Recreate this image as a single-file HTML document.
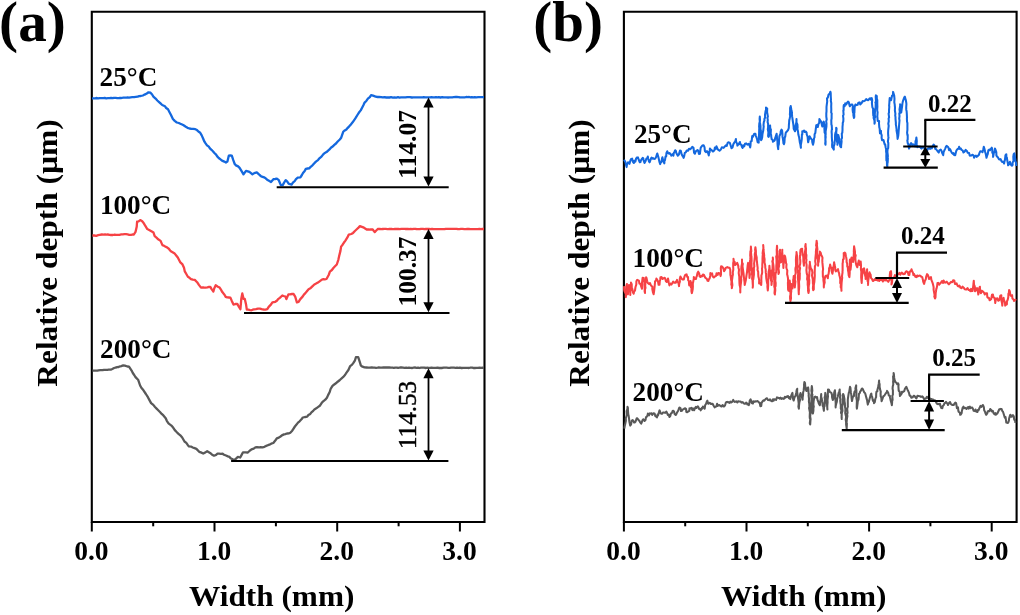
<!DOCTYPE html>
<html><head><meta charset="utf-8"><style>
html,body{margin:0;padding:0;background:#fff;width:1020px;height:615px;overflow:hidden}
svg{display:block;filter:blur(0.3px)}
text{font-family:"Liberation Serif",serif;font-weight:bold;fill:#000}
</style></head><body>
<svg width="1020" height="615" viewBox="0 0 1020 615">

<text x="-0.9" y="40.6" font-size="57.2">(a)</text>
<text x="533.3" y="40.8" font-size="57">(b)</text>
<path d="M91.8,11.8 H484.5 V522 H91.8 Z" fill="none" stroke="#000" stroke-width="2.1"/><line x1="91.8" y1="522" x2="91.8" y2="531.5" stroke="#000" stroke-width="2"/><text x="91.4" y="560" font-size="27.5" text-anchor="middle">0.0</text><line x1="214.5" y1="522" x2="214.5" y2="531.5" stroke="#000" stroke-width="2"/><text x="214.1" y="560" font-size="27.5" text-anchor="middle">1.0</text><line x1="337.2" y1="522" x2="337.2" y2="531.5" stroke="#000" stroke-width="2"/><text x="336.8" y="560" font-size="27.5" text-anchor="middle">2.0</text><line x1="459.9" y1="522" x2="459.9" y2="531.5" stroke="#000" stroke-width="2"/><text x="459.5" y="560" font-size="27.5" text-anchor="middle">3.0</text><line x1="153.2" y1="522" x2="153.2" y2="526.3" stroke="#000" stroke-width="2"/><line x1="275.9" y1="522" x2="275.9" y2="526.3" stroke="#000" stroke-width="2"/><line x1="398.6" y1="522" x2="398.6" y2="526.3" stroke="#000" stroke-width="2"/>
<path d="M623.9,11.8 H1016.6 V522 H623.9 Z" fill="none" stroke="#000" stroke-width="2.1"/><line x1="623.9" y1="522" x2="623.9" y2="531.5" stroke="#000" stroke-width="2"/><text x="623.5" y="560" font-size="27.5" text-anchor="middle">0.0</text><line x1="746.5" y1="522" x2="746.5" y2="531.5" stroke="#000" stroke-width="2"/><text x="746.1" y="560" font-size="27.5" text-anchor="middle">1.0</text><line x1="869.1" y1="522" x2="869.1" y2="531.5" stroke="#000" stroke-width="2"/><text x="868.7" y="560" font-size="27.5" text-anchor="middle">2.0</text><line x1="991.7" y1="522" x2="991.7" y2="531.5" stroke="#000" stroke-width="2"/><text x="991.3" y="560" font-size="27.5" text-anchor="middle">3.0</text><line x1="685.2" y1="522" x2="685.2" y2="526.3" stroke="#000" stroke-width="2"/><line x1="807.8" y1="522" x2="807.8" y2="526.3" stroke="#000" stroke-width="2"/><line x1="930.4" y1="522" x2="930.4" y2="526.3" stroke="#000" stroke-width="2"/>
<text transform="translate(271.7,606.3) scale(1,0.93)" font-size="31.3" text-anchor="middle">Width (mm)</text>
<text transform="translate(57.2,253.0) rotate(-90) scale(1,0.93)" x="0" y="0" font-size="31.4" text-anchor="middle">Relative depth (µm)</text>
<text transform="translate(803.7,606.3) scale(1,0.93)" font-size="31.3" text-anchor="middle">Width (mm)</text>
<text transform="translate(589.2,253.0) rotate(-90) scale(1,0.93)" x="0" y="0" font-size="31.4" text-anchor="middle">Relative depth (µm)</text>
<text x="99.60000000000001" y="85.5" font-size="27.2">25°C</text>
<text x="99.9" y="214.2" font-size="27.2">100°C</text>
<text x="100.10000000000001" y="357.6" font-size="27.2">200°C</text>
<text x="633.9" y="143.1" font-size="27.2">25°C</text>
<text x="632.6" y="266.5" font-size="27.2">100°C</text>
<text x="632.6" y="400.9" font-size="27.2">200°C</text>
<path d="M92.0,98.3 L93.4,98.3 L95.1,98.3 L96.9,98.0 L98.0,98.4 L99.8,98.1 L101.9,98.2 L103.4,98.2 L104.8,98.0 L106.4,98.3 L107.9,98.2 L109.5,98.1 L111.1,97.8 L112.7,98.1 L113.9,97.8 L115.8,97.9 L117.2,98.1 L118.6,98.1 L119.9,98.0 L121.5,98.0 L123.3,97.6 L124.2,97.6 L126.3,97.6 L127.6,97.5 L129.0,97.6 L130.7,97.3 L132.2,97.2 L134.1,97.1 L135.8,96.9 L137.6,96.7 L139.1,96.1 L140.7,96.0 L142.9,95.5 L144.6,94.6 L146.8,93.5 L148.5,92.3 L150.5,92.7 L152.1,94.5 L153.4,96.6 L155.6,98.6 L157.3,100.5 L158.8,101.8 L160.8,103.7 L162.2,105.0 L165.0,106.3 L166.2,108.0 L168.0,109.3 L169.4,112.0 L171.0,115.0 L172.9,119.0 L174.7,120.9 L176.8,122.5 L178.8,123.0 L180.3,123.7 L182.1,124.5 L183.6,125.3 L185.8,126.8 L187.5,127.8 L189.5,128.5 L191.4,128.8 L193.2,128.8 L195.3,129.2 L197.0,130.1 L198.4,131.5 L200.2,132.7 L201.7,135.4 L203.1,138.5 L204.1,141.0 L205.6,143.3 L207.0,145.3 L208.8,146.7 L209.9,148.3 L211.5,149.8 L212.9,151.2 L214.4,153.0 L216.1,154.6 L217.2,156.4 L218.7,158.0 L220.2,159.2 L222.0,160.6 L224.3,161.6 L225.9,162.5 L227.4,161.6 L228.8,155.7 L230.3,155.5 L231.8,155.7 L233.2,159.9 L234.7,164.0 L236.0,165.4 L238.1,166.4 L239.6,167.9 L241.6,171.1 L243.5,174.3 L246.0,170.9 L247.8,171.3 L249.4,171.9 L251.0,173.2 L252.4,174.3 L254.3,173.1 L256.8,172.4 L258.4,173.9 L259.6,175.0 L261.2,176.3 L264.1,177.3 L265.7,178.4 L267.1,179.7 L269.0,180.8 L271.0,182.0 L273.4,179.2 L275.1,179.0 L276.9,178.7 L278.8,180.2 L280.8,185.1 L282.7,185.1 L284.1,182.6 L285.7,180.2 L287.3,181.7 L288.6,183.6 L290.1,184.2 L291.6,184.6 L292.9,182.7 L294.8,181.0 L295.8,179.4 L297.5,177.7 L300.4,177.3 L301.9,175.0 L303.0,173.0 L304.7,171.0 L305.8,168.9 L307.7,168.5 L309.2,168.4 L310.7,166.8 L312.7,165.1 L314.1,163.5 L315.9,161.6 L318.0,160.1 L319.7,158.1 L321.5,156.6 L323.0,154.6 L324.4,153.2 L326.5,152.1 L328.1,150.6 L329.5,149.4 L330.9,147.8 L333.0,146.3 L334.3,144.9 L336.0,143.5 L337.7,141.5 L339.8,139.5 L341.2,137.7 L343.2,131.8 L344.3,130.7 L346.4,129.4 L347.5,128.1 L349.0,126.6 L350.9,124.4 L352.4,122.6 L354.0,120.3 L355.5,118.2 L357.1,115.5 L358.8,112.8 L360.7,110.4 L362.1,107.7 L363.5,105.0 L364.6,102.6 L366.5,100.7 L367.9,98.7 L369.8,97.1 L371.1,95.1 L373.0,95.6 L374.4,96.1 L375.7,96.7 L377.6,97.0 L379.1,97.0 L381.2,97.1 L382.7,97.4 L384.6,97.2 L386.1,97.5 L388.0,97.4 L389.6,97.5 L391.1,97.2 L392.9,97.6 L394.3,97.5 L396.4,97.6 L398.0,97.2 L399.5,97.6 L401.0,97.4 L402.2,97.3 L403.9,97.4 L405.5,97.4 L407.3,97.1 L408.3,97.2 L409.9,97.2 L412.0,97.5 L412.9,97.4 L414.6,97.3 L416.2,97.4 L417.9,97.3 L419.1,97.3 L420.6,97.4 L422.5,97.3 L423.6,97.2 L425.3,97.4 L427.1,97.3 L428.7,97.4 L430.0,97.3 L431.5,97.2 L433.0,97.4 L434.4,97.4 L436.0,97.2 L437.5,97.4 L438.7,97.2 L440.4,97.5 L442.3,97.2 L443.8,97.4 L444.8,97.3 L446.2,97.4 L448.1,97.5 L449.7,97.3 L451.2,97.3 L452.2,97.3 L453.7,97.1 L455.7,97.0 L456.7,97.0 L458.8,97.1 L459.7,97.4 L461.2,97.4 L463.1,97.4 L464.8,97.3 L466.2,97.0 L467.7,97.2 L469.2,97.0 L470.7,97.4 L471.7,97.1 L473.5,97.4 L474.8,97.1 L476.3,97.3 L478.2,97.2 L479.4,97.2 L480.9,97.2 L482.2,97.2 L484.0,97.2" fill="none" stroke="#1468de" stroke-width="2.3" stroke-linejoin="round"/>
<path d="M92.4,235.5 L94.2,235.5 L96.3,235.8 L98.1,235.2 L99.7,234.9 L101.8,234.5 L103.7,234.7 L105.1,234.5 L106.5,234.6 L107.8,234.5 L109.6,234.8 L111.0,235.0 L113.0,235.0 L114.6,234.6 L115.8,234.9 L117.5,234.8 L119.4,234.8 L121.3,234.3 L122.8,234.4 L124.5,234.2 L126.1,234.2 L127.6,234.4 L129.2,234.8 L131.1,234.9 L132.4,234.5 L133.9,234.5 L135.5,231.9 L136.7,226.8 L137.1,221.7 L138.6,221.3 L140.2,220.1 L142.2,221.3 L143.8,223.3 L144.9,225.2 L147.3,229.1 L149.6,230.3 L151.8,231.6 L153.5,232.6 L154.7,236.2 L156.5,237.7 L158.2,239.3 L160.6,240.9 L162.4,245.1 L164.0,245.8 L165.2,246.5 L167.0,247.4 L168.8,248.7 L170.1,250.5 L171.3,251.6 L173.0,252.6 L174.7,253.6 L176.2,255.5 L177.8,257.5 L180.1,262.1 L182.5,264.4 L184.0,267.7 L184.8,271.4 L186.3,274.0 L187.9,276.8 L189.5,277.8 L191.0,279.1 L192.8,279.6 L194.8,279.9 L197.1,282.2 L198.9,284.9 L201.0,287.6 L202.8,287.4 L203.8,287.5 L205.6,287.6 L207.4,287.4 L208.5,287.0 L210.3,286.8 L211.6,289.1 L213.4,291.5 L214.2,288.5 L215.7,285.3 L217.9,286.7 L219.6,287.6 L221.3,290.2 L222.3,292.1 L224.5,294.7 L225.7,296.9 L227.2,297.4 L228.9,297.5 L230.4,297.6 L231.8,300.9 L233.5,304.6 L235.4,304.0 L237.3,303.8 L238.8,306.7 L240.4,309.2 L240.9,303.7 L241.3,298.6 L242.3,293.5 L243.6,298.9 L244.8,298.9 L246.0,304.2 L246.8,309.7 L248.2,309.7 L250.2,310.1 L251.4,310.3 L252.7,309.7 L254.1,309.4 L255.9,309.2 L258.0,308.7 L259.9,308.6 L261.6,309.1 L263.9,309.7 L265.4,309.7 L267.3,309.2 L268.7,306.9 L270.9,304.6 L272.4,302.3 L275.3,301.8 L277.1,300.5 L278.1,299.1 L279.8,297.8 L282.3,295.5 L283.6,296.0 L285.5,296.6 L286.4,299.1 L288.4,294.4 L289.9,294.4 L292.0,294.0 L293.5,293.8 L295.2,296.6 L296.9,302.3 L298.6,301.8 L300.3,299.1 L302.6,296.6 L303.9,294.6 L305.4,293.1 L307.1,291.0 L308.6,289.2 L310.8,287.9 L312.6,286.2 L314.0,284.7 L316.1,283.6 L317.9,282.6 L319.6,281.3 L321.9,279.6 L323.4,279.2 L324.8,279.4 L326.5,279.0 L328.7,275.0 L329.9,271.6 L331.9,270.0 L333.4,268.0 L335.0,266.3 L336.8,264.5 L338.4,259.6 L339.5,254.6 L340.5,250.6 L341.1,246.6 L342.6,244.7 L343.8,242.8 L345.4,240.6 L347.4,237.4 L348.8,234.6 L351.3,234.0 L353.1,232.9 L354.9,231.0 L356.5,229.5 L358.5,227.6 L359.9,226.1 L361.9,226.8 L363.3,227.3 L364.7,228.2 L366.7,229.5 L368.3,229.5 L369.9,229.7 L371.0,229.3 L372.7,229.5 L374.7,232.1 L376.5,230.3 L377.8,229.0 L379.6,228.8 L381.2,229.1 L382.8,229.0 L384.4,228.9 L385.8,228.9 L387.5,229.1 L388.8,229.0 L390.1,228.8 L392.1,229.0 L393.8,229.1 L394.9,228.9 L396.9,229.0 L398.3,229.0 L399.5,229.2 L401.6,228.8 L402.9,228.9 L404.6,228.9 L405.8,229.0 L407.8,228.8 L408.8,229.1 L410.8,229.0 L412.1,229.2 L413.8,228.8 L415.5,228.8 L416.6,229.2 L418.2,229.1 L419.6,229.2 L421.1,228.8 L422.9,228.9 L424.4,229.2 L426.1,228.8 L427.3,229.0 L429.0,229.0 L430.5,229.1 L432.0,228.8 L433.4,229.2 L435.0,229.1 L437.0,229.1 L438.3,229.1 L439.6,229.2 L441.2,229.2 L442.6,229.2 L444.5,229.1 L445.8,228.8 L447.5,228.9 L449.0,228.8 L450.1,228.8 L452.1,228.8 L453.7,228.9 L455.0,228.9 L456.6,228.8 L458.0,229.2 L459.3,229.1 L461.0,228.9 L462.3,228.8 L464.5,229.2 L465.9,229.2 L467.5,228.8 L468.8,229.0 L470.3,229.2 L472.0,229.2 L473.0,229.1 L475.0,229.1 L476.4,229.2 L477.8,229.2 L479.4,229.0 L481.2,229.1 L482.3,228.9 L484.0,229.0" fill="none" stroke="#f64245" stroke-width="2.3" stroke-linejoin="round"/>
<path d="M92.6,370.6 L94.2,370.6 L95.9,370.7 L97.4,370.6 L98.5,370.3 L100.4,370.2 L102.4,370.2 L104.1,369.8 L105.6,369.8 L107.4,369.8 L108.7,369.6 L110.8,369.6 L112.3,369.0 L114.1,368.0 L115.8,367.5 L117.3,367.2 L118.6,367.0 L120.2,366.3 L121.3,366.1 L123.2,365.4 L124.9,365.7 L127.4,366.5 L129.0,366.7 L131.6,370.6 L132.8,373.0 L134.2,375.0 L135.5,377.1 L138.1,379.7 L140.1,385.5 L141.5,388.0 L143.3,390.1 L145.9,394.0 L147.9,397.2 L149.6,400.4 L151.1,403.1 L153.3,404.9 L155.0,407.0 L156.6,408.6 L158.2,410.2 L160.2,412.2 L161.7,413.9 L163.4,415.4 L165.7,418.2 L166.8,420.8 L168.5,423.3 L169.8,424.4 L171.4,425.6 L173.3,427.8 L174.8,430.1 L176.4,431.8 L178.2,433.6 L180.3,435.3 L182.2,437.5 L184.5,441.5 L186.3,442.9 L187.7,444.9 L189.0,446.4 L191.3,446.6 L192.7,447.5 L194.6,448.2 L196.4,448.9 L199.2,451.8 L200.9,452.4 L203.2,453.5 L205.0,452.6 L207.2,451.2 L210.1,452.9 L211.8,454.4 L214.0,455.7 L216.1,454.9 L217.5,453.7 L219.1,453.6 L220.9,453.8 L222.6,453.7 L224.0,454.7 L226.0,455.5 L227.9,456.4 L229.4,456.9 L230.6,458.2 L232.1,459.0 L233.9,460.1 L236.0,458.7 L237.9,456.9 L240.2,457.5 L241.5,455.1 L243.0,452.3 L244.6,452.3 L245.9,452.3 L247.6,452.6 L250.0,450.5 L251.5,449.3 L253.7,448.6 L255.4,447.3 L256.9,447.1 L259.3,447.3 L260.7,447.2 L262.5,447.3 L264.4,446.8 L266.1,445.9 L267.9,445.2 L269.4,444.7 L271.2,443.7 L273.3,443.0 L275.3,440.5 L276.8,438.4 L278.8,437.6 L280.5,436.5 L281.9,435.4 L284.0,434.4 L285.3,434.1 L287.0,433.5 L289.1,433.3 L290.3,432.7 L292.2,430.7 L293.4,428.8 L294.9,426.5 L296.5,424.6 L298.0,422.6 L299.6,421.3 L301.5,419.3 L302.8,417.5 L305.0,417.0 L307.2,416.6 L308.4,415.0 L310.3,413.9 L311.4,412.4 L313.2,410.9 L314.4,409.4 L316.3,408.3 L317.9,407.1 L319.8,405.8 L321.6,403.1 L323.2,401.3 L325.3,399.7 L326.9,397.8 L328.1,395.1 L329.7,392.0 L330.6,389.0 L332.3,386.1 L333.9,384.7 L335.9,383.3 L337.7,381.7 L339.6,380.3 L341.1,378.8 L343.0,377.2 L345.0,375.0 L346.5,372.6 L348.4,370.0 L350.2,366.1 L352.1,364.6 L353.4,362.9 L355.0,360.3 L355.9,357.2 L358.2,357.2 L359.6,361.4 L360.9,365.6 L362.5,366.7 L364.5,367.4 L366.6,367.5 L368.3,367.6 L370.0,367.6 L371.7,367.4 L373.2,367.7 L374.6,367.6 L376.1,367.8 L377.6,367.7 L378.7,367.5 L380.5,367.7 L381.8,367.7 L383.6,367.4 L385.0,367.5 L386.2,367.5 L387.9,367.5 L389.3,367.4 L391.0,367.6 L392.6,367.7 L393.8,367.9 L395.2,367.6 L396.8,367.6 L398.2,367.9 L399.9,367.5 L401.6,367.5 L403.0,367.6 L404.6,367.9 L406.2,367.7 L407.7,367.8 L408.9,367.6 L410.6,367.8 L412.3,368.0 L413.6,367.7 L415.3,367.5 L416.2,367.8 L418.1,367.6 L419.6,368.0 L420.9,367.7 L422.3,367.7 L424.3,367.7 L425.8,368.0 L427.1,367.7 L428.8,367.8 L430.0,367.8 L431.4,367.7 L433.3,367.8 L434.4,367.8 L435.7,367.9 L437.5,367.7 L439.2,368.0 L440.2,367.8 L441.8,368.0 L443.7,367.7 L444.8,367.6 L446.8,367.7 L448.1,367.8 L449.6,367.9 L451.2,367.6 L452.7,367.7 L454.0,367.7 L455.4,367.8 L457.0,367.7 L458.7,367.8 L459.7,367.7 L461.5,368.0 L463.3,367.8 L464.2,367.9 L465.9,367.8 L467.6,367.9 L469.0,368.0 L470.4,367.7 L472.2,367.6 L473.4,368.0 L474.7,368.0 L476.6,367.8 L477.9,367.9 L479.8,367.6 L481.0,367.8 L482.5,367.7 L484.0,367.8" fill="none" stroke="#595959" stroke-width="2.3" stroke-linejoin="round"/>
<path d="M624.0,159.7 L624.5,160.5 L625.4,162.1 L626.0,164.8 L626.6,167.1 L627.0,164.7 L628.0,162.3 L629.5,163.8 L630.0,161.9 L630.9,159.1 L632.1,158.6 L632.9,161.8 L633.9,163.0 L634.4,160.8 L635.4,161.6 L636.1,158.6 L636.8,157.6 L637.9,157.4 L638.6,159.3 L638.8,160.0 L639.8,162.3 L640.4,162.1 L641.0,160.3 L642.1,158.6 L642.7,157.9 L643.3,158.3 L643.6,160.4 L644.5,163.0 L645.3,161.5 L645.7,160.7 L646.4,158.5 L647.3,158.4 L647.8,156.5 L648.2,158.7 L649.0,161.5 L649.6,162.3 L650.4,160.1 L651.2,158.0 L651.5,157.6 L652.3,158.6 L653.1,158.1 L653.9,158.9 L655.1,158.7 L656.0,157.2 L656.8,154.7 L657.3,153.5 L658.0,155.9 L658.5,157.6 L659.3,161.2 L659.6,162.5 L660.2,164.1 L660.4,163.0 L661.4,162.1 L662.1,158.3 L662.4,157.2 L663.0,159.8 L663.3,161.2 L664.3,163.4 L664.6,160.2 L665.0,160.2 L665.5,156.6 L666.2,156.4 L666.4,153.2 L667.2,151.3 L668.1,153.1 L669.1,153.7 L669.5,153.0 L670.5,153.9 L671.4,155.7 L672.8,154.1 L673.4,155.7 L673.8,153.1 L674.4,152.0 L675.2,150.2 L675.9,150.9 L676.2,152.7 L677.1,154.5 L677.8,155.7 L678.9,154.6 L679.3,152.7 L680.0,150.6 L680.8,150.7 L681.7,154.4 L682.4,155.9 L682.8,156.1 L683.6,157.9 L684.1,156.5 L684.8,152.9 L685.8,152.4 L686.7,150.5 L688.0,150.7 L689.0,148.7 L690.2,149.3 L691.7,147.8 L692.3,146.8 L693.5,147.8 L693.7,149.4 L694.1,152.9 L694.9,153.7 L695.8,151.4 L696.5,150.8 L697.5,150.0 L698.2,150.9 L699.0,154.0 L699.9,153.8 L700.3,150.6 L700.7,147.8 L701.5,146.6 L702.3,145.6 L703.6,145.3 L704.5,147.1 L704.9,151.0 L705.9,152.2 L706.9,151.1 L707.8,152.2 L708.8,155.5 L709.2,151.7 L709.6,152.3 L709.9,148.5 L711.2,150.1 L711.7,150.1 L712.9,151.5 L713.4,151.3 L714.4,150.3 L714.9,147.5 L716.0,148.8 L716.5,146.3 L717.7,149.1 L718.4,150.0 L719.5,150.7 L720.2,150.0 L720.9,149.4 L721.9,147.3 L722.5,147.4 L723.6,147.9 L724.6,146.7 L725.8,145.4 L726.7,146.0 L727.6,143.0 L728.2,142.3 L729.7,142.7 L730.1,143.7 L730.7,145.5 L731.5,148.2 L732.5,147.4 L733.4,144.1 L734.5,142.3 L735.2,141.6 L735.9,139.0 L736.1,141.7 L737.2,144.2 L737.4,145.6 L738.4,144.3 L738.8,144.1 L739.9,142.0 L740.4,144.5 L741.5,144.8 L741.8,146.7 L742.6,147.9 L743.6,145.4 L744.3,146.3 L745.0,143.8 L746.2,143.4 L747.3,144.5 L747.6,144.6 L748.7,143.8 L749.8,146.1 L750.2,147.4 L750.5,145.3 L750.7,141.4 L751.7,141.1 L751.8,139.7 L752.2,136.1 L753.0,136.6 L754.0,134.0 L754.4,133.7 L755.4,133.7 L755.8,135.8 L756.4,137.2 L757.1,139.3 L757.6,142.2 L758.7,142.6 L758.7,140.1 L759.0,139.1 L758.9,136.8 L759.1,133.2 L759.2,129.3 L759.3,127.5 L759.1,127.0 L759.3,123.6 L759.8,121.5 L759.6,119.0 L759.8,116.6 L760.0,119.8 L759.8,121.5 L760.0,123.0 L760.5,126.1 L760.5,129.2 L760.9,130.6 L760.8,133.1 L760.8,136.1 L760.9,137.9 L761.1,140.2 L761.6,139.5 L762.2,137.2 L762.5,134.0 L763.1,131.1 L763.2,130.9 L763.7,126.3 L763.5,125.0 L763.8,122.1 L764.4,120.7 L764.4,119.0 L765.1,117.5 L765.0,114.8 L765.6,110.9 L766.0,111.2 L766.0,107.6 L767.2,108.5 L767.1,112.2 L767.3,113.2 L767.9,116.6 L767.4,117.8 L767.8,119.9 L767.6,122.2 L768.1,123.6 L768.1,127.3 L767.8,129.3 L768.4,132.2 L768.1,136.0 L768.5,136.9 L769.0,136.0 L768.9,131.6 L769.1,130.9 L769.6,126.7 L770.1,125.5 L770.3,129.0 L770.9,129.4 L770.7,133.7 L771.2,135.3 L771.1,135.7 L771.7,139.3 L772.6,139.6 L773.0,141.7 L774.1,141.0 L774.8,140.1 L775.1,138.4 L775.7,136.6 L776.6,133.7 L776.8,135.4 L777.1,139.4 L777.1,139.2 L777.5,141.7 L777.5,143.7 L777.7,146.0 L778.2,149.1 L778.3,146.2 L778.9,143.9 L779.0,141.2 L779.2,138.5 L779.4,136.1 L779.8,135.3 L780.5,133.6 L780.7,131.4 L781.5,129.6 L782.1,130.5 L782.4,133.6 L782.5,136.9 L782.8,138.0 L783.3,141.5 L783.4,143.1 L783.9,144.2 L784.4,142.6 L784.6,139.7 L784.8,137.0 L785.2,136.8 L785.7,133.0 L786.3,132.0 L786.8,131.7 L788.2,129.8 L788.8,128.0 L788.9,124.8 L789.1,123.0 L789.2,120.5 L789.5,119.6 L790.2,115.9 L789.9,114.7 L790.1,110.5 L790.1,108.1 L790.7,106.0 L791.1,108.2 L791.4,110.3 L792.0,112.5 L791.9,114.1 L792.2,116.9 L792.4,118.1 L792.8,121.0 L793.3,124.2 L793.6,126.9 L793.7,128.8 L795.0,131.3 L795.5,130.0 L795.5,125.9 L796.2,122.9 L796.4,122.0 L796.5,119.1 L796.5,122.5 L797.4,124.4 L797.6,127.4 L797.4,128.9 L798.0,131.3 L798.4,134.8 L799.1,137.2 L799.3,138.7 L799.8,142.2 L800.2,143.8 L800.3,144.1 L800.9,147.8 L800.8,145.0 L801.0,144.1 L801.5,141.1 L801.8,138.9 L801.9,134.5 L802.3,134.4 L802.3,131.3 L803.1,131.6 L804.1,130.5 L804.8,132.0 L805.9,131.6 L806.6,132.6 L806.7,134.3 L807.6,136.6 L808.0,141.3 L808.2,142.3 L808.7,139.9 L809.1,138.8 L809.6,136.2 L810.7,138.1 L811.5,139.3 L812.1,139.9 L812.3,142.2 L813.0,144.8 L813.7,141.7 L814.0,138.4 L814.5,137.4 L814.6,134.3 L815.3,133.1 L815.7,129.5 L816.0,127.5 L816.3,125.2 L817.0,125.0 L817.8,127.0 L818.6,123.5 L819.2,123.0 L819.4,119.1 L820.0,120.2 L821.2,121.6 L822.0,125.5 L822.4,126.5 L823.0,123.4 L823.7,121.6 L824.5,125.0 L824.4,128.8 L824.5,130.2 L824.6,132.5 L825.3,133.8 L825.3,137.4 L825.5,140.5 L825.2,143.5 L825.5,144.8 L825.6,141.1 L825.3,140.1 L825.7,137.2 L825.5,135.1 L825.7,134.2 L825.6,131.6 L826.3,127.4 L826.4,126.9 L826.5,123.3 L826.2,121.3 L826.7,119.5 L826.3,116.7 L826.3,113.3 L826.3,113.3 L826.5,111.3 L826.5,107.0 L826.8,104.4 L826.8,104.4 L827.2,101.7 L827.0,98.4 L827.8,97.8 L828.5,94.8 L829.8,93.4 L830.4,91.7 L830.7,92.9 L830.8,96.6 L831.0,99.7 L830.8,100.5 L831.3,103.2 L831.2,106.4 L831.3,109.4 L831.2,112.5 L831.7,113.4 L831.6,115.9 L831.6,118.5 L831.3,120.2 L831.4,124.8 L831.7,125.1 L832.0,129.8 L831.8,129.6 L831.6,131.8 L831.8,134.2 L831.8,137.0 L832.1,141.3 L832.3,142.2 L832.1,144.9 L832.2,147.2 L832.9,147.9 L833.8,149.6 L833.7,146.6 L834.6,143.8 L834.5,143.0 L835.0,139.5 L835.0,138.0 L835.1,134.7 L835.5,132.7 L836.2,131.3 L836.2,127.7 L836.6,128.7 L836.2,133.2 L837.0,134.9 L836.9,136.0 L837.0,141.2 L837.5,143.4 L837.4,144.8 L838.0,141.6 L837.6,138.9 L838.1,138.0 L838.3,135.0 L839.0,137.8 L839.2,140.0 L839.5,141.5 L839.9,143.5 L840.2,146.2 L841.1,147.2 L841.1,146.0 L841.6,141.7 L841.4,139.1 L842.0,138.0 L841.8,133.6 L842.3,132.7 L842.5,130.0 L842.5,126.9 L842.8,124.0 L842.7,123.1 L843.3,121.4 L843.4,118.6 L843.0,115.7 L843.6,114.8 L843.3,110.5 L843.6,110.2 L843.6,106.6 L843.8,105.1 L844.7,106.2 L845.2,103.3 L846.2,104.5 L847.0,102.8 L848.0,101.5 L848.8,102.2 L849.5,105.4 L849.9,106.3 L850.7,104.8 L851.8,104.5 L852.3,104.5 L852.8,105.9 L852.6,109.7 L853.0,112.6 L853.4,112.5 L853.4,115.4 L853.9,117.9 L854.3,117.0 L854.2,113.1 L854.4,112.6 L854.6,107.6 L854.8,106.4 L855.4,104.5 L856.7,105.1 L857.6,104.8 L858.4,102.7 L859.7,102.4 L860.2,104.4 L861.5,103.3 L862.7,101.1 L863.6,101.3 L864.5,100.9 L865.4,100.2 L866.2,99.1 L867.2,99.9 L868.3,100.2 L869.5,98.5 L870.3,98.3 L870.7,99.6 L871.7,98.1 L872.2,100.3 L871.9,102.9 L872.3,106.6 L872.4,107.4 L873.1,108.8 L873.1,112.6 L873.3,115.8 L873.8,115.7 L873.6,117.9 L874.5,120.8 L874.5,123.7 L874.8,122.5 L874.6,118.3 L875.2,117.0 L874.8,114.9 L875.0,111.2 L874.9,110.3 L875.6,107.6 L875.7,103.4 L875.4,102.4 L876.0,101.5 L875.7,97.0 L875.9,95.4 L876.8,96.0 L876.8,98.5 L877.3,100.0 L877.3,104.2 L877.4,106.8 L877.3,107.9 L877.2,110.5 L877.6,112.2 L877.3,116.7 L877.4,117.1 L877.7,120.9 L879.1,120.9 L879.0,123.5 L879.3,127.3 L879.9,129.8 L879.7,129.6 L880.0,133.3 L881.0,131.0 L881.0,133.3 L881.7,135.4 L881.6,137.7 L882.1,140.2 L883.5,140.0 L884.1,142.3 L884.7,144.6 L885.2,144.3 L885.6,147.2 L886.1,149.0 L886.1,151.6 L886.4,153.5 L886.3,156.1 L886.4,160.4 L886.9,161.2 L887.0,165.6 L887.3,166.5 L887.4,163.4 L887.7,162.3 L887.9,158.3 L887.6,158.1 L887.9,156.0 L887.4,151.8 L887.6,149.2 L888.2,148.0 L888.3,145.0 L888.3,142.9 L887.9,141.6 L888.5,137.2 L888.3,136.4 L888.1,133.3 L888.2,130.5 L888.3,129.3 L888.7,125.8 L888.3,123.8 L888.8,121.0 L888.6,118.7 L889.1,117.4 L888.6,113.7 L889.0,112.6 L889.0,110.3 L889.3,106.5 L889.1,105.9 L889.4,102.3 L889.4,101.9 L889.7,98.1 L891.1,100.2 L891.5,98.3 L892.0,95.8 L892.9,95.5 L893.1,91.9 L893.5,93.3 L894.2,95.6 L894.5,98.8 L894.3,102.3 L894.7,104.4 L894.9,106.8 L895.0,107.0 L894.9,110.5 L895.4,113.8 L895.2,115.3 L895.5,117.2 L895.5,118.8 L895.9,123.1 L895.8,124.1 L896.2,126.4 L896.7,130.3 L896.5,130.3 L897.4,135.3 L897.3,135.1 L897.6,138.9 L898.2,136.1 L898.4,134.3 L898.7,130.4 L898.9,128.1 L899.0,126.4 L899.1,125.0 L899.5,120.5 L899.2,118.7 L899.5,116.2 L899.3,113.4 L899.9,112.9 L899.5,109.4 L900.2,105.4 L900.1,104.3 L900.7,105.9 L900.9,110.0 L901.2,112.6 L901.6,109.8 L901.8,108.4 L902.1,106.5 L902.4,103.6 L902.8,101.6 L903.2,100.3 L904.2,97.5 L904.9,96.7 L905.6,99.6 L905.8,99.9 L906.3,103.0 L906.4,104.2 L906.2,107.5 L906.3,109.9 L906.6,111.0 L906.8,113.5 L907.0,118.0 L906.9,118.1 L907.0,121.5 L907.4,123.1 L907.4,128.0 L907.4,129.8 L907.1,132.7 L907.4,135.0 L907.7,134.9 L907.7,139.6 L907.3,140.2 L907.7,143.0 L908.5,144.7 L909.0,148.5 L910.0,146.0 L910.6,143.8 L911.1,143.0 L912.2,145.0 L913.2,144.4 L914.0,144.7 L915.2,146.5 L915.5,143.7 L915.5,141.0 L915.9,141.1 L916.4,137.5 L916.8,141.1 L916.6,143.2 L916.8,144.9 L917.3,147.2 L918.3,146.5 L919.4,146.9 L920.0,146.5 L920.9,148.0 L921.5,148.6 L922.7,147.2 L923.5,147.8 L924.6,147.8 L925.7,149.4 L926.3,149.9 L927.1,150.5 L928.1,148.5 L929.2,147.9 L930.0,149.0 L931.1,147.2 L931.8,148.3 L932.7,146.2 L933.5,144.6 L934.3,145.3 L935.3,149.0 L935.8,148.8 L937.1,150.5 L937.9,151.6 L938.8,152.6 L939.4,150.3 L940.7,149.5 L941.5,150.7 L942.0,152.5 L943.2,155.2 L943.6,152.1 L944.6,149.9 L945.1,148.8 L946.1,146.3 L946.8,145.9 L947.7,146.7 L948.5,147.7 L949.1,150.3 L950.1,149.2 L951.2,151.6 L951.7,152.7 L953.1,153.9 L953.5,153.1 L954.1,154.9 L955.2,155.2 L955.9,152.3 L956.5,150.3 L957.5,149.0 L958.5,148.7 L959.1,146.8 L959.8,148.9 L960.9,148.5 L961.4,149.9 L962.6,150.4 L963.5,152.5 L964.3,152.0 L965.7,149.9 L967.1,151.2 L967.6,152.8 L969.1,153.1 L969.7,155.6 L970.4,155.6 L971.5,155.4 L972.4,154.7 L973.5,155.3 L974.1,157.8 L974.9,156.1 L975.9,155.6 L976.7,156.8 L978.1,155.6 L979.0,154.8 L979.2,153.7 L980.3,151.2 L981.6,151.5 L982.5,152.1 L983.3,149.3 L983.8,146.8 L984.3,148.3 L985.2,152.1 L985.7,153.6 L986.5,157.8 L987.0,156.0 L987.8,153.8 L988.3,150.3 L989.3,149.6 L990.0,150.3 L990.9,148.8 L991.8,147.7 L992.3,150.1 L992.3,152.7 L993.1,153.8 L993.1,156.9 L993.8,153.3 L993.8,151.9 L994.6,151.9 L994.9,148.5 L995.6,150.0 L996.3,152.0 L996.4,155.7 L997.1,156.5 L998.1,157.7 L999.0,159.2 L999.7,159.5 L1000.6,159.1 L1001.6,161.3 L1002.3,162.0 L1003.3,161.8 L1004.1,163.5 L1004.4,161.6 L1004.9,160.1 L1005.5,155.2 L1006.3,154.3 L1006.4,157.8 L1006.9,157.6 L1007.1,159.5 L1007.9,163.5 L1008.1,165.3 L1009.1,164.3 L1009.9,161.8 L1010.3,163.4 L1011.3,165.4 L1012.1,165.7 L1012.7,164.8 L1012.5,162.7 L1013.5,160.9 L1013.3,156.6 L1013.7,154.1 L1014.3,153.4 L1014.9,156.4 L1015.0,158.6 L1015.3,159.1 L1015.3,160.6 L1016.1,163.0 L1016.2,166.0" fill="none" stroke="#1468de" stroke-width="2.05" stroke-linejoin="round"/>
<path d="M624.1,286.1 L624.2,289.7 L624.5,291.1 L624.8,291.9 L625.8,294.0 L625.8,297.1 L626.1,294.4 L626.2,291.8 L626.2,290.2 L626.4,285.8 L626.9,284.0 L626.8,285.9 L627.3,290.4 L627.6,290.6 L627.9,294.3 L628.0,293.4 L628.1,290.0 L628.6,287.8 L629.0,285.0 L629.2,288.1 L629.6,290.4 L630.3,292.7 L630.3,295.0 L630.2,291.2 L630.9,290.0 L630.5,288.9 L630.9,285.8 L631.0,282.6 L631.7,284.1 L631.8,288.0 L632.4,289.0 L632.8,292.1 L633.7,293.6 L634.0,292.0 L635.0,290.5 L635.5,287.0 L636.3,284.6 L636.4,281.2 L637.2,279.9 L638.1,280.3 L638.9,280.6 L639.4,283.5 L640.5,284.0 L641.3,287.0 L642.0,288.8 L642.0,285.3 L642.0,282.8 L642.3,280.3 L642.6,277.8 L643.8,278.0 L643.9,281.5 L644.5,282.0 L644.3,284.5 L644.7,289.4 L644.6,291.3 L645.0,293.0 L645.0,289.3 L645.5,288.0 L645.2,286.0 L645.4,283.7 L645.7,281.5 L646.0,278.8 L646.1,277.2 L646.5,278.0 L647.2,281.3 L648.1,283.3 L649.0,284.1 L650.0,283.0 L650.8,285.2 L651.6,286.1 L652.4,286.8 L652.3,289.1 L653.0,292.5 L653.6,294.3 L654.1,291.3 L654.5,287.6 L654.7,285.6 L655.0,282.5 L655.0,281.3 L656.0,280.7 L656.4,278.5 L657.6,280.5 L658.1,282.0 L658.6,284.8 L659.5,284.7 L659.8,281.0 L660.2,279.7 L660.5,277.2 L661.5,277.1 L662.5,279.0 L663.1,278.6 L664.3,277.8 L665.1,278.1 L665.9,281.3 L666.7,282.0 L667.5,280.2 L668.0,278.5 L668.4,280.4 L668.7,282.2 L669.4,285.4 L670.3,283.5 L671.4,284.6 L672.2,283.3 L673.2,281.6 L673.9,282.6 L674.9,282.6 L675.7,282.7 L677.0,279.9 L677.8,282.0 L678.5,283.1 L679.0,286.1 L679.2,283.8 L679.9,281.7 L679.7,279.2 L680.4,276.5 L681.7,278.7 L682.5,279.5 L683.8,279.4 L684.5,276.5 L685.4,274.8 L686.6,274.4 L687.3,277.1 L688.0,277.0 L688.2,280.4 L688.9,281.2 L689.1,284.7 L689.3,285.4 L690.1,282.6 L690.5,281.0 L691.0,282.5 L690.9,287.2 L691.5,287.7 L691.4,291.0 L691.8,293.1 L692.3,291.4 L692.7,289.2 L692.9,286.5 L692.8,283.7 L693.2,281.7 L693.8,278.6 L693.8,277.0 L694.6,278.7 L696.0,279.0 L696.4,276.9 L696.8,276.3 L697.5,272.9 L698.2,271.7 L699.2,273.5 L699.6,276.4 L700.6,277.0 L701.3,275.8 L702.5,276.2 L703.0,274.5 L704.0,274.9 L704.9,277.1 L705.5,278.0 L706.7,278.6 L707.6,280.8 L708.4,280.9 L708.8,279.4 L709.6,278.5 L710.2,275.9 L710.4,273.1 L710.9,274.2 L712.1,273.4 L712.7,276.5 L713.8,277.5 L714.3,277.0 L714.8,276.5 L716.1,275.9 L716.5,273.3 L717.7,275.0 L718.2,273.1 L719.2,273.1 L720.0,273.9 L720.6,276.1 L721.0,274.6 L721.0,271.5 L720.8,268.1 L721.1,266.3 L722.1,266.4 L722.7,267.5 L723.4,268.4 L724.1,271.2 L725.2,269.4 L725.7,267.9 L726.9,267.3 L727.5,267.1 L728.4,267.8 L729.6,267.7 L730.3,269.8 L730.3,271.5 L730.4,275.1 L730.6,275.4 L731.1,279.7 L731.5,281.5 L731.3,284.7 L731.8,285.8 L731.8,288.2 L732.0,287.2 L732.4,285.0 L731.9,280.9 L732.3,278.2 L732.6,275.6 L732.9,274.9 L732.8,272.1 L733.2,270.3 L733.3,269.1 L733.2,267.0 L733.2,262.9 L733.6,261.1 L733.5,258.8 L733.9,261.4 L734.6,261.8 L735.2,265.0 L736.4,263.9 L737.2,262.9 L738.2,265.6 L738.5,268.0 L739.0,269.8 L738.7,273.0 L739.2,276.3 L739.3,276.6 L739.3,278.8 L739.5,284.0 L739.7,285.7 L740.0,286.4 L740.3,288.7 L740.3,292.4 L740.2,290.3 L740.3,289.1 L740.6,285.7 L741.1,281.8 L741.3,279.3 L741.1,278.8 L741.5,275.5 L741.6,274.1 L741.4,270.3 L741.3,268.5 L741.5,266.2 L742.0,263.8 L742.0,260.5 L742.0,259.5 L742.0,262.6 L742.8,263.9 L742.5,266.2 L742.9,269.1 L743.3,272.0 L743.6,274.0 L744.0,278.0 L744.3,280.5 L744.5,281.6 L744.7,284.9 L745.4,282.0 L745.8,280.3 L746.1,278.2 L746.4,276.0 L746.8,273.3 L747.0,272.3 L747.2,269.8 L747.5,267.2 L747.7,265.2 L748.1,262.9 L748.5,264.4 L748.3,268.9 L748.5,271.3 L749.2,272.1 L749.4,274.7 L749.5,278.0 L749.9,274.7 L749.4,271.8 L750.0,269.9 L749.8,269.7 L750.2,266.6 L750.2,263.9 L749.9,262.0 L750.2,259.7 L750.4,257.4 L750.2,255.2 L750.4,251.4 L750.8,250.4 L750.9,246.5 L751.2,250.2 L751.4,250.8 L751.0,252.3 L751.4,257.0 L751.5,257.5 L751.6,260.7 L751.4,263.1 L751.5,263.3 L751.5,267.0 L752.0,268.5 L751.9,272.2 L751.9,274.0 L752.3,275.9 L752.1,279.0 L752.5,279.8 L752.7,283.5 L752.9,286.2 L752.7,287.6 L752.9,285.9 L752.9,283.3 L752.9,280.0 L753.3,279.3 L753.6,276.9 L753.9,274.8 L753.9,271.3 L753.9,267.8 L754.3,266.5 L754.1,263.1 L754.3,262.1 L754.7,258.2 L754.9,256.9 L754.8,254.2 L755.4,250.9 L755.1,249.9 L755.4,247.2 L755.9,250.9 L755.9,252.9 L755.9,254.3 L756.7,257.6 L756.7,259.8 L757.0,262.0 L757.2,264.5 L757.7,268.2 L757.5,269.9 L758.2,271.9 L758.2,273.6 L758.4,276.6 L758.7,277.6 L759.2,280.4 L759.1,283.5 L760.2,283.3 L761.2,284.9 L761.4,281.3 L761.3,279.9 L761.4,277.8 L761.4,275.5 L762.0,273.6 L762.2,272.2 L762.0,268.4 L762.3,267.3 L762.3,264.3 L762.5,261.5 L762.5,258.9 L762.6,256.7 L762.9,253.4 L762.6,253.4 L763.0,250.4 L763.4,248.1 L763.2,245.1 L763.5,248.7 L763.7,249.5 L763.6,250.9 L764.2,255.4 L764.1,256.6 L764.6,259.2 L764.5,262.4 L764.9,264.1 L765.2,265.5 L765.3,268.0 L765.7,269.3 L765.8,272.9 L766.1,274.1 L766.1,275.8 L766.3,278.3 L766.8,281.6 L767.2,283.5 L767.5,284.5 L767.4,287.0 L767.8,290.4 L768.0,288.1 L768.2,285.3 L768.2,282.5 L768.2,279.6 L768.6,278.3 L768.5,276.6 L768.6,272.0 L769.0,270.1 L769.3,268.7 L769.4,265.7 L769.7,269.0 L769.9,271.0 L770.1,271.8 L770.2,274.3 L770.7,277.0 L771.0,280.6 L771.5,281.4 L771.5,284.9 L771.9,281.1 L772.0,281.8 L771.7,278.9 L771.9,276.0 L772.3,274.8 L772.0,270.4 L772.5,269.2 L772.6,265.8 L772.7,263.3 L772.3,261.4 L773.0,259.4 L772.8,257.5 L772.9,259.2 L772.8,262.0 L773.2,263.9 L773.5,266.2 L773.8,270.3 L773.6,270.2 L773.8,274.1 L774.0,275.8 L774.1,279.8 L774.3,279.2 L774.3,283.3 L774.4,286.6 L774.2,286.1 L774.8,288.7 L774.5,293.1 L774.9,294.5 L774.9,293.3 L775.3,290.3 L775.1,286.3 L775.6,286.3 L775.7,282.9 L775.3,281.0 L775.5,277.3 L775.4,275.7 L775.6,272.9 L776.2,272.6 L776.3,269.0 L776.3,265.7 L776.3,265.8 L776.5,263.5 L776.5,259.1 L776.2,256.7 L776.8,255.2 L776.8,253.7 L776.7,249.4 L777.2,248.4 L777.0,245.8 L776.8,248.7 L777.4,251.3 L777.1,252.2 L777.7,255.7 L777.5,259.0 L777.6,261.1 L777.6,262.1 L778.3,265.2 L778.3,268.1 L778.3,269.4 L778.6,271.7 L778.5,274.0 L779.0,272.4 L778.5,268.5 L779.2,265.6 L778.8,264.6 L779.4,263.3 L779.7,259.9 L779.7,257.2 L779.9,255.2 L779.6,252.6 L780.0,249.8 L779.9,251.8 L780.3,256.1 L780.5,256.9 L780.9,258.9 L781.1,262.3 L781.3,259.2 L781.7,258.2 L781.9,255.9 L782.1,253.0 L782.3,249.8 L782.2,251.7 L782.5,255.5 L782.7,256.3 L783.0,260.3 L783.2,262.1 L783.2,264.4 L783.3,265.4 L783.4,268.0 L783.5,264.8 L783.8,263.0 L784.4,259.7 L784.3,257.3 L784.6,255.5 L785.1,256.4 L785.7,260.0 L786.1,263.3 L786.5,264.1 L786.3,267.5 L786.8,269.1 L787.3,270.5 L787.1,274.2 L787.6,276.1 L788.0,278.3 L788.1,282.0 L787.9,282.6 L788.0,286.4 L788.1,289.4 L788.5,290.8 L788.9,288.3 L788.9,286.8 L789.1,283.3 L789.7,280.5 L790.0,283.3 L789.6,283.9 L789.8,288.0 L789.8,291.0 L790.4,292.1 L790.5,294.6 L790.1,296.2 L790.1,298.5 L790.5,301.0 L791.0,298.3 L790.9,295.7 L791.0,293.2 L791.3,291.0 L791.0,288.6 L791.0,285.9 L791.4,284.0 L792.1,286.0 L792.5,288.5 L792.7,285.2 L793.2,284.7 L793.2,279.5 L793.4,279.6 L793.7,276.0 L794.0,277.5 L793.9,281.7 L794.1,283.2 L794.6,284.2 L794.8,287.4 L794.9,286.1 L795.4,281.4 L794.8,279.6 L794.9,279.3 L795.1,275.2 L795.7,273.2 L795.4,269.6 L795.5,268.0 L796.1,266.0 L796.0,263.2 L796.0,262.8 L795.9,259.8 L796.1,256.6 L796.5,254.0 L796.5,252.1 L796.9,255.0 L797.3,258.0 L797.4,259.1 L797.4,262.5 L797.5,264.6 L797.7,268.4 L797.5,268.8 L797.9,272.7 L798.2,273.5 L797.8,277.6 L798.0,279.7 L798.2,280.9 L798.4,284.0 L798.5,288.1 L798.6,290.4 L798.6,290.8 L798.8,294.2 L798.8,291.3 L799.1,288.4 L799.2,286.3 L799.1,284.0 L799.0,281.4 L799.7,279.0 L799.7,277.7 L799.8,274.5 L799.7,273.7 L799.6,271.2 L800.1,268.2 L799.5,266.5 L800.2,263.7 L800.3,261.1 L800.1,258.9 L799.9,255.5 L800.4,255.6 L800.2,253.4 L800.5,249.8 L801.2,249.0 L802.2,248.7 L802.1,249.7 L802.7,254.7 L803.0,254.9 L803.3,257.3 L803.4,261.6 L803.6,262.7 L803.9,265.7 L804.0,262.7 L803.9,261.6 L804.4,257.6 L804.5,254.7 L804.8,254.0 L805.1,251.1 L805.6,247.9 L805.2,246.7 L805.6,244.1 L805.6,245.9 L806.0,248.9 L805.9,251.8 L805.9,253.7 L806.4,255.0 L806.2,258.8 L806.5,259.6 L806.1,262.5 L806.6,264.7 L806.6,268.0 L806.4,270.0 L806.7,273.1 L807.4,275.6 L807.3,276.8 L807.1,279.2 L807.7,281.0 L807.7,285.2 L807.9,285.5 L808.1,289.8 L808.0,290.6 L808.5,293.0 L808.9,290.7 L808.6,287.7 L808.9,284.7 L809.2,283.9 L809.3,279.9 L808.8,278.0 L809.2,276.2 L809.4,272.3 L809.7,270.3 L809.3,267.8 L809.5,265.5 L809.9,263.7 L809.8,261.7 L810.0,264.5 L810.7,268.0 L812.0,270.0 L812.4,272.7 L812.0,275.3 L812.4,277.6 L812.8,279.0 L812.9,283.4 L813.2,284.8 L812.9,288.3 L813.2,290.2 L813.8,289.4 L813.8,285.3 L814.2,282.6 L814.3,282.5 L814.5,280.0 L814.7,277.1 L814.8,275.4 L814.7,273.1 L814.8,269.3 L814.9,267.5 L814.9,266.3 L815.7,264.5 L815.2,261.2 L815.4,259.1 L815.4,258.0 L815.9,253.4 L815.9,251.5 L816.1,249.5 L816.6,247.0 L816.1,245.4 L816.5,242.5 L816.6,240.7 L817.1,244.0 L816.8,244.2 L817.3,248.4 L817.4,249.5 L817.1,252.1 L817.4,255.0 L817.3,258.0 L817.7,258.2 L817.9,259.9 L818.2,263.5 L818.1,265.7 L818.2,262.0 L818.7,261.9 L818.8,260.0 L819.3,256.3 L819.8,253.4 L819.8,251.5 L820.7,252.8 L821.2,255.0 L822.1,256.6 L822.5,257.8 L822.3,260.0 L822.4,262.4 L822.8,266.6 L823.1,269.1 L822.8,271.2 L822.8,273.0 L822.9,277.0 L823.4,277.2 L823.4,280.0 L823.8,283.2 L823.8,285.4 L823.8,287.4 L823.9,285.3 L824.7,282.5 L824.5,280.0 L824.8,278.5 L825.5,276.0 L826.3,275.6 L827.3,276.8 L827.8,278.3 L828.1,275.0 L828.6,273.9 L829.1,270.0 L829.1,268.1 L829.6,267.8 L830.1,264.6 L830.9,267.6 L831.3,267.7 L831.7,271.5 L832.4,273.7 L832.9,271.1 L833.0,268.6 L833.4,266.7 L833.7,265.8 L834.1,262.3 L834.6,265.1 L835.2,267.6 L835.2,269.9 L835.8,271.4 L837.0,270.3 L838.0,269.1 L838.7,272.4 L839.2,273.7 L839.3,275.2 L839.8,276.8 L840.3,279.2 L840.2,283.1 L840.9,283.7 L840.7,287.0 L841.3,288.4 L841.5,290.8 L841.4,289.8 L841.4,287.1 L841.6,282.9 L841.9,280.1 L842.2,277.9 L842.0,276.0 L842.5,272.7 L842.5,271.0 L842.6,270.7 L842.6,266.9 L842.6,263.2 L842.8,263.0 L843.0,259.5 L843.7,258.9 L843.8,254.6 L843.7,253.2 L844.7,252.6 L845.4,253.2 L845.9,256.2 L846.2,257.3 L846.6,259.9 L846.6,262.1 L847.2,263.5 L847.3,266.8 L847.8,266.8 L848.0,270.6 L848.4,272.3 L848.7,275.4 L849.4,277.1 L849.7,273.2 L849.7,272.5 L849.7,271.0 L849.6,268.2 L849.9,263.7 L849.8,260.8 L850.0,259.5 L850.3,261.3 L850.3,265.6 L850.2,267.8 L850.5,270.0 L850.8,267.3 L851.1,264.8 L850.9,261.3 L851.1,260.8 L851.5,257.6 L852.3,258.7 L853.0,262.0 L853.5,258.3 L853.4,257.4 L853.7,255.6 L853.9,252.2 L853.8,251.6 L853.9,249.2 L854.1,246.3 L854.5,248.7 L855.0,252.0 L855.0,254.8 L855.7,255.2 L855.3,257.5 L855.5,261.1 L855.9,263.4 L856.6,265.9 L857.3,267.3 L857.5,266.1 L858.1,263.6 L858.8,260.5 L859.2,262.8 L859.7,265.0 L860.7,261.5 L861.0,265.1 L861.0,264.9 L860.9,269.3 L861.4,272.2 L861.3,272.2 L861.2,275.5 L861.2,277.7 L861.5,281.2 L861.7,282.9 L861.8,280.9 L861.9,279.0 L862.2,274.8 L862.7,272.7 L862.4,270.3 L862.7,269.3 L864.1,268.3 L864.6,271.5 L864.7,273.4 L865.2,275.8 L865.6,277.3 L865.6,279.0 L866.0,275.2 L866.2,275.6 L866.7,273.0 L867.1,269.3 L867.1,272.9 L867.6,275.2 L867.4,278.6 L867.6,281.2 L868.2,281.1 L868.0,284.9 L868.0,282.1 L868.4,279.5 L868.7,278.0 L868.9,275.0 L869.5,272.2 L869.9,273.6 L870.6,274.6 L871.0,278.0 L872.0,278.9 L872.8,281.0 L873.4,281.0 L874.6,279.2 L875.0,279.9 L876.0,280.0 L876.9,279.6 L877.6,280.5 L878.7,279.5 L879.3,281.0 L880.1,279.9 L881.0,279.9 L882.0,280.0 L882.9,281.5 L883.7,278.9 L885.1,280.5 L886.2,279.6 L887.3,280.9 L888.3,281.9 L889.0,280.5 L889.7,279.6 L889.8,275.0 L890.2,272.0 L891.0,271.2 L891.3,274.5 L891.1,275.4 L891.0,279.2 L891.7,280.3 L891.5,284.4 L892.0,282.9 L892.3,279.1 L892.9,278.0 L894.2,277.4 L894.9,275.1 L895.8,276.2 L896.8,275.6 L898.0,274.2 L898.8,274.1 L899.5,272.8 L900.3,274.7 L901.1,273.3 L901.9,272.6 L903.1,274.2 L903.7,273.7 L904.8,273.9 L905.7,271.8 L906.6,271.2 L907.8,272.3 L908.5,275.0 L909.4,275.0 L909.7,271.4 L910.7,271.4 L911.5,269.3 L912.1,270.9 L913.0,272.9 L913.4,275.1 L914.0,273.9 L915.4,276.9 L916.2,275.9 L916.7,277.1 L917.5,275.5 L918.3,276.1 L919.4,275.6 L920.3,275.7 L921.0,276.5 L922.2,277.1 L923.0,280.3 L923.2,281.6 L924.1,283.9 L924.9,280.7 L925.1,280.4 L925.8,279.2 L926.2,276.6 L927.1,274.1 L927.8,275.0 L928.5,276.7 L929.0,279.0 L929.7,278.1 L931.0,277.1 L931.3,279.6 L932.1,281.6 L932.9,283.9 L933.6,286.9 L933.6,289.6 L933.9,291.4 L934.6,295.1 L934.3,296.5 L935.0,298.5 L935.5,297.3 L935.7,292.9 L936.0,291.2 L936.4,288.5 L936.5,288.8 L937.1,286.1 L937.5,283.0 L938.4,282.9 L939.2,284.7 L940.0,283.7 L940.8,282.9 L942.0,281.0 L943.1,282.9 L943.6,280.5 L944.5,282.2 L945.2,282.7 L946.5,282.0 L946.8,281.7 L948.0,283.5 L948.9,284.3 L949.8,283.3 L951.0,281.8 L951.6,282.3 L952.5,282.0 L953.1,280.3 L954.3,280.4 L955.0,284.0 L955.9,284.1 L956.6,283.3 L957.8,286.1 L958.4,286.4 L959.5,285.6 L960.3,287.5 L961.5,288.2 L961.8,288.1 L962.6,286.6 L963.9,287.9 L964.7,289.2 L965.9,289.4 L966.4,289.5 L967.5,288.1 L968.6,290.0 L969.3,289.8 L970.3,291.1 L971.1,288.9 L971.8,291.1 L972.5,291.0 L972.9,288.7 L973.4,284.6 L973.4,284.2 L973.8,280.7 L974.0,284.6 L974.7,286.2 L974.9,287.3 L975.0,291.3 L975.8,289.7 L977.0,288.0 L977.1,290.6 L977.9,291.3 L978.3,294.5 L978.9,291.7 L979.1,288.5 L979.9,286.7 L980.0,288.9 L980.6,290.8 L980.9,293.2 L982.1,290.9 L982.8,291.3 L984.0,292.7 L984.8,294.5 L985.7,293.2 L987.0,293.2 L987.3,297.0 L988.0,297.8 L988.9,297.8 L989.6,300.3 L990.6,299.7 L991.2,299.0 L992.0,294.8 L992.9,294.5 L993.4,297.4 L994.5,297.8 L995.2,301.5 L995.2,303.0 L995.9,299.2 L996.5,298.4 L997.4,298.3 L998.2,300.8 L999.1,300.4 L999.6,299.3 L1000.3,295.6 L1001.3,295.2 L1001.3,297.4 L1001.5,301.1 L1002.0,303.0 L1002.3,305.6 L1002.5,303.2 L1002.8,299.3 L1003.6,297.8 L1003.9,299.8 L1004.9,302.4 L1005.2,305.6 L1005.8,304.9 L1006.9,304.3 L1006.9,301.5 L1007.7,299.8 L1008.3,297.0 L1008.4,293.7 L1008.8,293.6 L1009.1,290.0 L1009.8,291.3 L1010.4,295.2 L1011.2,296.0 L1012.1,295.2 L1012.4,298.4 L1013.6,299.5 L1014.0,301.0 L1015.2,300.0 L1016.0,299.1" fill="none" stroke="#f64245" stroke-width="2.05" stroke-linejoin="round"/>
<path d="M624.3,428.7 L624.8,425.7 L625.1,424.6 L625.9,420.9 L625.8,418.6 L626.7,414.9 L626.7,414.2 L626.6,411.1 L627.4,409.0 L627.5,406.8 L627.9,407.9 L627.9,409.9 L628.3,414.5 L628.6,415.4 L629.1,418.8 L629.3,421.2 L629.5,422.4 L630.2,425.6 L631.1,424.4 L631.7,420.7 L632.5,420.1 L633.1,420.4 L634.1,422.5 L634.7,422.4 L635.5,421.7 L636.8,418.2 L637.3,418.5 L638.3,419.7 L639.5,421.0 L640.0,422.1 L641.2,423.6 L642.3,421.0 L642.8,419.6 L643.5,419.3 L644.6,420.9 L645.5,420.1 L646.0,417.1 L646.5,417.1 L647.5,415.4 L647.9,413.5 L649.0,415.3 L649.8,413.4 L650.5,413.6 L651.5,413.2 L652.2,415.0 L653.4,413.2 L654.5,413.4 L655.4,416.1 L655.8,416.2 L656.9,417.4 L657.6,414.6 L658.1,415.3 L659.3,410.9 L659.6,410.3 L660.7,413.4 L661.6,413.8 L662.2,413.7 L662.9,412.5 L664.0,412.5 L665.2,412.9 L666.3,411.6 L667.1,413.0 L667.8,414.9 L668.7,414.5 L669.4,416.9 L670.2,416.2 L671.0,413.4 L672.0,412.9 L672.5,411.2 L673.3,410.7 L674.1,411.6 L674.6,414.0 L675.7,415.0 L676.2,414.4 L676.9,412.8 L678.3,410.5 L679.0,408.2 L679.6,407.5 L680.6,408.3 L681.0,411.0 L682.0,410.7 L682.7,409.7 L683.8,409.0 L684.3,408.7 L685.2,408.3 L686.1,409.1 L686.3,411.8 L687.2,412.3 L688.2,411.5 L689.3,410.9 L689.5,408.4 L690.4,408.5 L691.4,407.9 L692.4,410.1 L693.1,408.4 L694.1,410.3 L695.0,408.2 L695.9,406.9 L696.5,408.0 L697.8,406.3 L698.5,407.4 L699.2,409.0 L700.2,409.0 L700.7,410.4 L701.7,408.1 L702.3,408.6 L702.9,406.5 L704.1,407.6 L704.7,408.7 L705.1,405.3 L706.1,403.7 L706.8,401.5 L707.4,400.7 L708.2,403.8 L709.3,403.0 L709.7,402.8 L710.9,404.0 L711.8,403.8 L712.6,403.7 L713.5,405.5 L714.6,407.3 L715.7,406.5 L716.4,406.5 L717.1,403.8 L717.7,405.9 L719.0,405.0 L720.1,405.6 L720.7,406.1 L721.5,406.5 L722.7,405.0 L723.3,406.2 L724.0,406.5 L725.0,405.6 L725.8,402.7 L726.3,402.1 L727.2,401.9 L727.9,402.3 L728.4,402.1 L729.4,402.8 L730.3,401.6 L731.0,402.5 L732.2,401.8 L733.2,399.9 L733.8,401.2 L734.8,401.9 L735.7,401.6 L736.2,401.2 L737.4,402.5 L738.3,401.2 L738.8,401.4 L740.0,401.5 L740.9,401.8 L741.5,402.7 L742.7,402.1 L743.5,403.0 L744.1,403.7 L745.4,403.8 L746.2,402.5 L747.4,404.4 L747.7,403.8 L748.8,405.2 L749.2,404.1 L749.8,400.5 L750.6,399.4 L750.9,400.1 L751.8,403.0 L752.9,403.5 L753.3,401.2 L754.1,401.9 L755.0,401.3 L755.8,401.6 L756.8,401.2 L757.7,401.1 L759.0,402.5 L759.7,402.8 L760.4,406.2 L761.2,406.0 L761.6,402.9 L762.9,400.9 L763.4,400.3 L764.3,400.7 L765.6,399.0 L766.6,398.2 L767.1,398.5 L768.1,400.1 L769.5,400.2 L770.0,399.4 L771.2,401.0 L772.1,401.3 L773.0,399.2 L773.6,400.7 L774.4,399.3 L775.4,399.5 L776.1,399.9 L777.0,397.4 L778.0,397.7 L778.7,397.9 L779.8,398.6 L780.6,397.7 L781.5,399.0 L782.2,398.2 L782.9,398.6 L783.7,398.9 L784.8,396.9 L785.5,397.7 L786.4,396.6 L787.1,396.9 L788.0,396.0 L788.9,398.2 L789.7,397.2 L790.3,399.1 L791.0,396.5 L791.4,395.1 L792.4,392.9 L792.8,396.5 L793.1,399.0 L793.7,400.5 L794.6,397.0 L795.5,396.0 L796.2,393.0 L796.7,389.9 L797.2,388.8 L797.1,392.6 L797.3,392.7 L797.6,395.1 L798.3,400.2 L798.4,400.9 L798.7,403.7 L798.4,406.8 L798.9,408.7 L799.0,405.8 L799.2,403.9 L799.4,402.3 L800.1,399.9 L799.7,398.0 L799.9,395.2 L800.5,393.0 L801.5,395.8 L802.2,398.3 L802.6,399.8 L802.7,396.5 L803.0,395.9 L803.1,392.6 L803.7,390.4 L803.8,388.8 L804.3,385.0 L804.0,385.1 L804.4,382.0 L805.0,383.0 L805.2,385.6 L806.0,390.0 L806.5,391.0 L807.1,388.3 L808.1,387.4 L808.4,389.5 L808.6,393.5 L808.8,395.0 L808.6,395.4 L809.0,398.7 L808.9,401.7 L809.3,403.8 L809.4,407.3 L809.0,407.8 L809.7,411.4 L809.9,412.0 L809.7,416.5 L809.8,418.1 L810.3,418.9 L809.8,423.2 L810.2,424.5 L810.4,421.2 L810.6,419.1 L810.2,416.7 L810.3,414.6 L810.9,412.4 L811.1,408.7 L810.7,406.6 L811.1,404.4 L811.2,403.0 L811.3,401.5 L811.5,399.4 L811.2,395.3 L811.8,393.0 L811.4,390.8 L811.5,389.5 L811.8,386.1 L812.0,387.2 L812.3,390.7 L811.9,393.3 L812.5,394.8 L811.9,396.6 L812.0,399.9 L812.3,403.1 L812.3,402.9 L812.6,405.5 L812.6,408.1 L812.6,411.6 L812.9,413.5 L813.4,410.8 L813.4,408.3 L813.8,406.6 L813.4,404.8 L813.7,400.4 L813.8,400.4 L814.3,397.0 L815.4,396.6 L816.2,397.7 L817.1,397.1 L817.5,399.8 L818.6,402.5 L818.8,403.5 L819.8,405.3 L820.1,404.1 L820.3,401.3 L820.9,398.1 L820.9,397.4 L821.2,394.0 L821.2,397.5 L821.7,398.1 L822.1,401.2 L822.6,403.1 L822.6,405.6 L823.4,407.1 L823.4,408.0 L823.9,410.8 L824.0,407.3 L824.6,406.0 L824.7,403.1 L824.7,402.7 L824.9,399.4 L824.6,397.2 L825.0,396.5 L825.3,392.9 L825.9,396.6 L826.2,396.6 L825.9,399.3 L826.2,401.2 L826.9,403.8 L827.2,406.7 L827.4,409.4 L827.3,408.3 L827.3,405.6 L827.6,402.4 L827.5,400.2 L828.0,396.1 L827.8,394.9 L827.9,392.7 L828.0,389.5 L829.0,389.8 L829.9,392.1 L830.6,392.4 L831.5,393.0 L832.0,395.3 L832.1,397.4 L832.8,400.0 L833.4,398.7 L833.3,396.0 L834.1,394.2 L834.2,392.6 L834.9,390.2 L835.1,392.8 L835.4,395.3 L834.9,396.9 L835.4,398.8 L835.7,403.1 L835.7,404.0 L835.6,407.4 L835.6,406.4 L836.4,403.1 L836.8,402.0 L837.0,399.9 L837.5,397.0 L837.8,396.6 L838.7,392.7 L839.1,392.5 L839.7,389.5 L839.7,392.4 L840.3,395.4 L840.0,397.2 L840.4,399.5 L840.2,400.6 L840.6,404.1 L840.8,404.0 L840.8,408.6 L841.4,410.1 L841.0,413.0 L841.7,413.8 L841.6,416.1 L841.8,419.0 L841.6,417.4 L841.8,413.2 L842.4,411.0 L842.5,410.9 L842.2,407.3 L842.3,406.0 L843.0,403.8 L842.7,400.9 L842.8,399.2 L842.8,395.5 L843.1,394.0 L843.7,395.3 L844.4,398.7 L844.5,400.0 L844.4,400.8 L844.9,403.4 L845.0,407.1 L845.4,408.7 L845.3,412.2 L845.2,413.0 L845.8,415.4 L846.1,416.8 L845.7,419.9 L846.1,422.1 L846.1,424.6 L846.7,428.4 L846.6,429.3 L846.8,426.2 L846.9,423.5 L846.6,423.0 L846.9,418.7 L847.4,416.1 L847.1,413.8 L847.6,413.0 L847.2,408.8 L847.9,406.5 L847.8,405.8 L847.8,402.8 L847.8,399.8 L848.0,398.0 L848.5,394.7 L848.8,392.8 L849.1,392.5 L849.6,389.5 L850.0,386.8 L850.4,387.7 L850.9,392.7 L851.2,394.0 L851.6,397.6 L851.5,397.6 L852.0,401.0 L852.6,397.9 L853.1,396.4 L854.0,396.0 L854.1,393.6 L854.5,391.7 L855.6,390.3 L855.4,388.2 L856.2,385.4 L856.1,388.6 L856.4,390.2 L856.4,393.8 L856.3,395.9 L856.3,395.8 L856.4,398.0 L856.9,400.8 L856.8,403.4 L856.7,407.2 L856.9,408.7 L857.3,405.6 L857.7,402.7 L857.6,401.9 L858.5,399.7 L858.7,397.7 L858.9,394.0 L859.9,392.9 L860.1,391.6 L860.9,390.7 L861.7,388.8 L862.4,388.6 L863.1,389.8 L864.3,392.5 L865.0,393.0 L865.5,394.4 L866.1,396.7 L866.4,397.9 L867.2,400.6 L867.3,401.8 L867.8,404.6 L868.3,402.7 L868.9,401.7 L869.4,399.5 L870.3,396.2 L870.9,394.1 L871.3,393.6 L871.7,396.5 L872.1,396.8 L872.9,400.7 L873.8,400.4 L874.0,403.2 L874.8,402.2 L875.4,398.6 L876.1,397.1 L876.2,393.7 L876.5,391.6 L877.4,391.2 L877.3,390.2 L878.3,386.5 L878.3,385.9 L878.8,383.4 L879.1,380.6 L879.2,383.6 L879.6,383.8 L879.6,386.8 L880.0,389.1 L880.8,391.7 L880.6,393.1 L880.7,396.3 L881.3,397.6 L881.6,401.2 L882.3,399.4 L882.6,398.4 L883.4,396.1 L884.3,395.7 L885.2,394.3 L885.6,393.5 L886.6,392.5 L887.1,390.9 L888.3,393.1 L888.8,395.5 L889.8,395.7 L890.0,397.2 L890.6,400.1 L891.3,402.6 L891.9,405.3 L892.1,402.5 L892.1,401.2 L892.6,399.8 L892.3,395.7 L892.9,394.8 L892.9,390.3 L892.6,388.9 L892.7,386.7 L893.3,384.2 L893.1,381.7 L893.3,380.1 L893.1,376.3 L893.7,376.3 L893.6,373.0 L893.9,374.3 L894.2,377.9 L894.9,381.1 L895.3,382.0 L896.3,382.7 L897.2,384.1 L898.0,383.3 L898.6,384.4 L898.4,386.4 L898.7,390.7 L899.7,391.8 L899.8,394.4 L900.0,396.0 L900.9,394.7 L901.8,393.4 L902.0,391.7 L903.0,392.0 L904.2,391.2 L904.9,388.8 L906.3,386.8 L906.5,387.2 L907.6,390.0 L908.0,390.6 L909.0,392.9 L909.6,395.6 L910.3,395.5 L911.4,397.7 L912.6,397.3 L913.5,396.0 L914.1,395.7 L915.1,396.8 L916.3,398.5 L917.4,395.8 L918.5,396.0 L919.6,396.2 L920.3,396.2 L921.1,396.9 L922.3,396.4 L923.3,397.5 L924.0,399.0 L924.9,398.9 L925.9,398.5 L926.9,396.7 L927.6,397.7 L928.6,398.5 L929.6,398.1 L930.5,400.0 L931.5,399.0 L932.0,399.2 L933.5,399.7 L934.1,401.0 L935.0,400.3 L935.8,401.5 L936.5,403.0 L937.4,404.1 L938.3,403.9 L939.0,404.2 L940.0,403.7 L940.3,405.5 L941.4,408.1 L942.3,408.3 L942.8,406.0 L943.9,404.9 L944.4,403.4 L945.5,402.6 L946.0,401.9 L947.4,403.6 L948.0,405.0 L949.2,402.7 L950.0,402.0 L951.0,404.1 L951.3,404.3 L952.5,405.0 L953.7,405.0 L954.1,404.1 L955.3,402.6 L956.1,403.1 L956.6,406.0 L956.9,408.1 L958.0,407.4 L958.3,410.5 L958.6,411.8 L959.9,412.8 L960.2,414.8 L960.8,414.5 L961.7,412.9 L961.8,411.4 L962.6,407.9 L963.4,406.7 L964.0,408.2 L965.0,407.7 L965.7,408.5 L966.5,409.0 L967.4,407.4 L968.4,407.1 L968.7,408.6 L969.9,406.7 L970.4,408.2 L971.6,407.6 L972.3,407.6 L973.0,409.0 L973.7,410.8 L974.9,411.1 L975.5,409.5 L976.4,411.5 L977.4,412.0 L977.8,410.1 L978.5,410.3 L979.5,408.0 L980.5,405.9 L981.3,407.0 L982.0,406.0 L982.9,405.0 L983.9,407.5 L984.2,410.3 L985.0,411.7 L985.6,413.6 L986.2,414.8 L987.2,413.5 L987.7,411.4 L988.5,411.0 L989.5,411.3 L990.2,409.0 L991.1,409.9 L992.0,411.4 L992.8,410.9 L993.5,413.0 L994.6,414.3 L995.3,413.1 L995.9,414.8 L996.6,413.6 L997.3,413.7 L998.5,411.0 L999.3,409.3 L1000.8,408.9 L1001.6,409.1 L1002.5,411.5 L1003.0,411.7 L1004.0,415.0 L1004.8,417.7 L1005.5,417.0 L1005.9,419.6 L1006.3,422.5 L1007.3,422.9 L1008.2,422.7 L1008.9,420.7 L1009.1,418.5 L1010.2,414.9 L1010.6,414.8 L1011.1,416.7 L1011.9,416.8 L1012.9,415.2 L1013.8,416.4 L1014.2,419.7 L1015.0,419.6 L1015.4,422.9" fill="none" stroke="#595959" stroke-width="2.05" stroke-linejoin="round"/>
<line x1="276.7" y1="187.3" x2="448.7" y2="187.3" stroke="#000" stroke-width="2"/><line x1="244" y1="312.9" x2="449.5" y2="312.9" stroke="#000" stroke-width="2"/><line x1="231.1" y1="461.1" x2="448.4" y2="461.1" stroke="#000" stroke-width="2"/>
<line x1="428.5" y1="106.6" x2="428.5" y2="177.6" stroke="#000" stroke-width="1.8"/><path d="M428.5,97.6 L423.35,107.6 L433.65,107.6 Z" fill="#000"/><path d="M428.5,186.6 L423.35,176.6 L433.65,176.6 Z" fill="#000"/><line x1="428.5" y1="237.9" x2="428.5" y2="303.2" stroke="#000" stroke-width="1.8"/><path d="M428.5,228.9 L423.35,238.9 L433.65,238.9 Z" fill="#000"/><path d="M428.5,312.2 L423.35,302.2 L433.65,302.2 Z" fill="#000"/><line x1="428.5" y1="377.3" x2="428.5" y2="451.6" stroke="#000" stroke-width="1.8"/><path d="M428.5,368.3 L423.35,378.3 L433.65,378.3 Z" fill="#000"/><path d="M428.5,460.6 L423.35,450.6 L433.65,450.6 Z" fill="#000"/>
<text transform="translate(416.3,178.8) rotate(-90)" font-size="25.5">114.07</text>
<text transform="translate(416.2,306.6) rotate(-90)" font-size="25.5">100.37</text>
<text transform="translate(415.6,449.0) rotate(-90)" font-size="25.1" style="font-weight:normal;stroke:#000;stroke-width:0.45">114.53</text>
<line x1="924.3" y1="119.9" x2="975.4" y2="119.9" stroke="#000" stroke-width="2.2"/><line x1="925.3" y1="119.9" x2="925.3" y2="146.5" stroke="#000" stroke-width="2.2"/><line x1="903.2" y1="146.5" x2="937.6" y2="146.5" stroke="#000" stroke-width="2.2"/><line x1="883.6" y1="167.7" x2="937.8" y2="167.7" stroke="#000" stroke-width="2.2"/><path d="M925.3,146.5 L920.3,155.3 L930.3,155.3 Z" fill="#000"/><path d="M925.3,167.7 L920.3,158.89999999999998 L930.3,158.89999999999998 Z" fill="#000"/><line x1="925.3" y1="154.3" x2="925.3" y2="159.89999999999998" stroke="#000" stroke-width="2"/><text x="928.1" y="111.7" font-size="25">0.22</text>
<line x1="896.0" y1="252.7" x2="947.0" y2="252.7" stroke="#000" stroke-width="2.2"/><line x1="897.0" y1="252.7" x2="897.0" y2="278.0" stroke="#000" stroke-width="2.2"/><line x1="875.3" y1="278.0" x2="909.2" y2="278.0" stroke="#000" stroke-width="2.2"/><line x1="785.0" y1="302.9" x2="908.7" y2="302.9" stroke="#000" stroke-width="2.2"/><path d="M897.0,278.0 L892.0,288.0 L902.0,288.0 Z" fill="#000"/><path d="M897.0,302.9 L892.0,292.9 L902.0,292.9 Z" fill="#000"/><line x1="897.0" y1="287.0" x2="897.0" y2="293.9" stroke="#000" stroke-width="2"/><text x="901.0" y="243.7" font-size="25">0.24</text>
<line x1="928.1" y1="374.7" x2="979.7" y2="374.7" stroke="#000" stroke-width="2.2"/><line x1="929.1" y1="374.7" x2="929.1" y2="401.0" stroke="#000" stroke-width="2.2"/><line x1="910.6" y1="401.0" x2="943.9" y2="401.0" stroke="#000" stroke-width="2.2"/><line x1="841.8" y1="430.1" x2="944.7" y2="430.1" stroke="#000" stroke-width="2.2"/><path d="M929.1,401.0 L924.1,411.5 L934.1,411.5 Z" fill="#000"/><path d="M929.1,430.1 L924.1,419.6 L934.1,419.6 Z" fill="#000"/><line x1="929.1" y1="410.5" x2="929.1" y2="420.6" stroke="#000" stroke-width="2"/><text x="932.3" y="365.7" font-size="25">0.25</text>
</svg></body></html>
